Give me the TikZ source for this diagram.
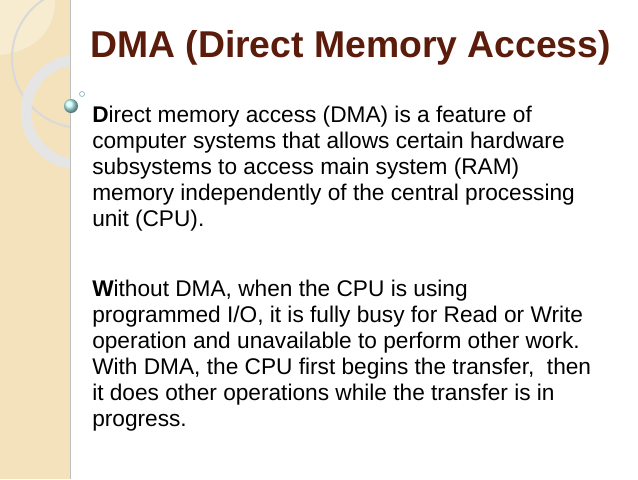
\documentclass[tikz,border=0pt]{standalone}
\usepackage{fontspec}
\setmainfont{Liberation Sans}
\definecolor{panel}{HTML}{F3E2BC}
\definecolor{titlec}{HTML}{5C1C0C}
\begin{document}
\begin{tikzpicture}[x=0.75pt,y=-0.75pt,
  body/.style={anchor=base west,inner sep=0pt,font=\fontsize{17}{20}\selectfont},
  ring/.style={draw=#1,line width=1.2pt}]
\useasboundingbox (0,0) rectangle (638,479);
\fill[white] (0,0) rectangle (638,479);
\fill[panel] (0,0) rectangle (70,479);
\fill[panel!70!white] (0,0) -- (55,0) .. controls (55,35) and (30,52) .. (0,55) -- cycle;
\begin{scope}
\clip (0,0) rectangle (70,479);
\draw[ring=white!70!gray, line width=1.5pt] (82,58) circle (70);
\draw[line width=8pt, draw=gray!20] (78,112) circle (52);
\end{scope}
\draw[gray!50, line width=0.6pt] (70,0) -- (70,479);
\shade[ball color=cyan!25] (71,106) circle (7);
\draw[cyan!40!gray] (82,94) circle (2.5);
\node[anchor=base west,inner sep=0pt,text=titlec,font=\fontsize{28}{30}\bfseries] (title) at (90,57) {DMA (Direct Memory Access)};
\node[body] (l1) at (92,122) {\textbf{D}irect memory access (DMA) is a feature of};
\node[body] (l2) at (92,148) {computer systems that allows certain hardware};
\node[body] (l3) at (92,174) {subsystems to access main system (RAM)};
\node[body] (l4) at (92,200) {memory independently of the central processing};
\node[body] (l5) at (92,226) {unit (CPU).};
\node[body] (m1) at (92,296) {\textbf{W}ithout DMA, when the CPU is using};
\node[body] (m2) at (92,322) {programmed I/O, it is fully busy for Read or Write};
\node[body] (m3) at (92,348) {operation and unavailable to perform other work.};
\node[body] (m4) at (92,374) {With DMA, the CPU first begins the transfer,\ \ then};
\node[body] (m5) at (92,400) {it does other operations while the transfer is in};
\node[body] (m6) at (92,426) {progress.};
\end{tikzpicture}
\end{document}
